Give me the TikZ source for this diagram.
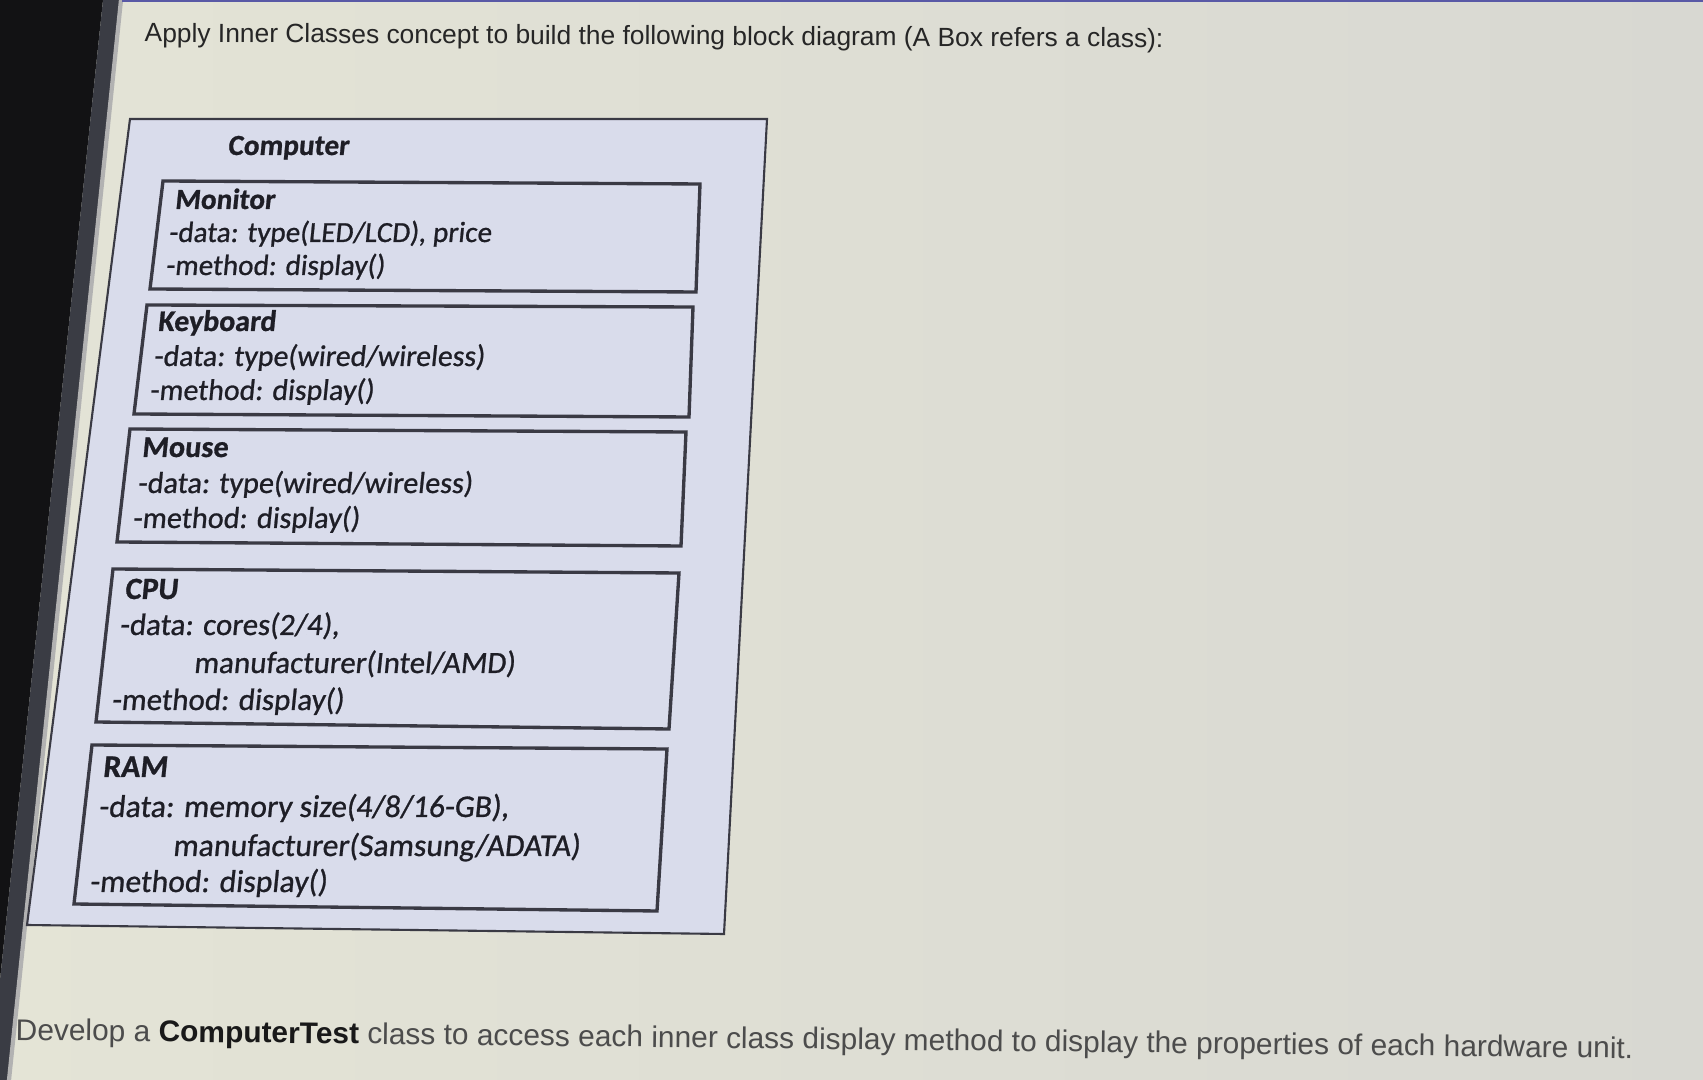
\documentclass[tikz,border=0pt]{standalone}
\usepackage{amsmath}
\usepackage{tikz}
\usepackage{color}
\usepackage{fontspec}
\setmainfont{Liberation Sans}
\newfontfamily\calibfont[RawFeature={embolden=0.8}]{Carlito}

\definecolor{pagel}{HTML}{E4E4D6}
\definecolor{pager}{HTML}{D8D8D2}
\definecolor{bezel}{HTML}{121214}
\definecolor{bezelgrey}{HTML}{3A3C44}
\definecolor{boxfill}{HTML}{D9DCEB}
\definecolor{boxline}{HTML}{3A3A44}
\definecolor{inktext}{HTML}{1E1E26}

\tikzset{
  outerbox/.style={draw=boxline, fill=boxfill, line width=0.6pt},
  innerbox/.style={draw=boxline, line width=0.95pt},
  lean/.style={xslant=0.1, anchor=base west, inner sep=0pt, text=inktext,
    font=\calibfont\fontsize{#1}{12}\selectfont},
  lean/.default=8.3,
  title/.style={lean, font=\calibfont\bfseries\fontsize{#1}{12}\selectfont},
  title/.default=8.3,
  prose/.style={anchor=base west, inner sep=0pt}
}

\begin{document}
\begin{tikzpicture}[x=0.01cm,y=-0.01cm]
\useasboundingbox (0,0) rectangle (1703,1080);
\shade[left color=pagel, right color=pager] (0,0) rectangle (1703,1080);

% edge of the screen
\fill[bezel] (0,0) -- (103,0) -- (0,980) -- cycle;
\fill[bezelgrey] (103,0) -- (120,0) -- (8,1080) -- (0,1080) -- (0,980) -- cycle;
\draw[gray!60, line width=1.2pt] (121,0) -- (9,1080);
\draw[blue!30!gray, line width=0.8pt] (122,1) -- (1703,1);

\node[prose, text=black!85, font=\fontsize{7.5}{9}\selectfont, rotate=-0.3] (task) at (144,42)
  {Apply Inner Classes concept to build the following block diagram (A Box refers a class):};

% Computer
\draw[outerbox] (130,119) -- (767,119) -- (724,934) -- (27,925) -- cycle;
\node[title] (comp) at (227,155) {Computer};

% Monitor
\draw[innerbox] (163,181) -- (700,184) -- (696,292) -- (150,289) -- cycle;
\node[title] (mon) at (174,209) {Monitor};
\node[lean] (mondata) at (168,242) {-data: type(LED/LCD), price};
\node[lean] (monmeth) at (165,275) {-method: display()};

% Keyboard
\draw[innerbox] (147,305) -- (693,307) -- (689,417) -- (134,414) -- cycle;
\node[title=8.5] (kbd) at (157,331) {Keyboard};
\node[lean=8.5] (kbddata) at (153,366) {-data: type(wired/wireless)};
\node[lean=8.5] (kbdmeth) at (149,400) {-method: display()};

% Mouse
\draw[innerbox] (130,429) -- (686,432) -- (681,546) -- (117,542) -- cycle;
\node[title=8.6] (mouse) at (141,457) {Mouse};
\node[lean=8.6] (mousedata) at (137,493) {-data: type(wired/wireless)};
\node[lean=8.6] (mousemeth) at (132,528) {-method: display()};

% CPU
\draw[innerbox] (113,569) -- (679,573) -- (669,729) -- (96,722) -- cycle;
\node[title=8.8] (cpu) at (124,599) {CPU};
\node[lean=8.8] (cpudata) at (119,635) {-data: cores(2/4),};
\node[lean=8.8] (cpumake) at (193,673) {manufacturer(Intel/AMD)};
\node[lean=8.8] (cpumeth) at (111,710) {-method: display()};

% RAM
\draw[innerbox] (92,745) -- (667,749) -- (657,911) -- (74,904) -- cycle;
\node[title=9] (ram) at (102,777) {RAM};
\node[lean=9] (ramdata) at (98,817) {-data: memory size(4/8/16-GB),};
\node[lean=9] (rammake) at (172,856) {manufacturer(Samsung/ADATA)};
\node[lean=9] (rammeth) at (89,892) {-method: display()};

\node[prose, text=black!70, font=\fontsize{8.5}{10}\selectfont, rotate=-0.65] (develop) at (15,1040)
  {Develop a \textcolor{black!90}{\textbf{ComputerTest}} class to access each inner class display method to display the properties of each hardware unit.};

\end{tikzpicture}
\end{document}
